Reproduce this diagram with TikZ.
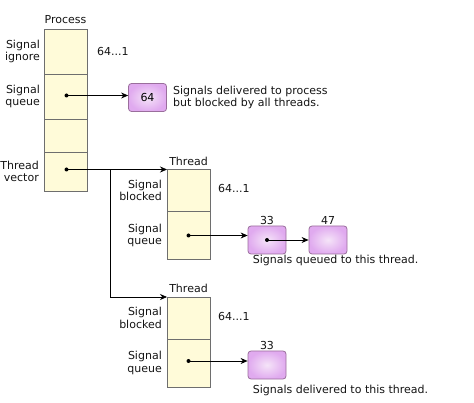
\documentclass[tikz,border=0pt]{standalone}
\usepackage{fontspec}
\setmainfont{DejaVu Sans}
\usetikzlibrary{arrows.meta,positioning,calc}
\definecolor{cellfill}{HTML}{FFFBD9}
\definecolor{cellline}{HTML}{6E6E6E}
\definecolor{pinkline}{HTML}{9A6E9C}
\definecolor{pinkout}{HTML}{E0AAEF}
\definecolor{pinkin}{HTML}{F5E4F8}
\definecolor{txtcol}{HTML}{141414}
\tikzset{
  cell/.style={draw=cellline, line width=0.8pt, fill=cellfill, minimum width=43pt, inner sep=0pt, outer sep=0pt, anchor=north west},
  sig/.style={draw=pinkline, line width=0.8pt, rounded corners=3pt, inner color=pinkin, outer color=pinkout, minimum width=38pt, minimum height=28pt, inner sep=0pt},
  dotn/.style={circle, fill=black, inner sep=0pt, minimum size=4pt},
  arr/.style={-{Stealth[length=7pt,width=6pt]}, line width=0.7pt, black},
  lab/.style={align=right, anchor=east, inner sep=0pt, text=txtcol},
  txt/.style={align=left, anchor=west, inner sep=0pt, text=txtcol},
  ttl/.style={anchor=south, inner sep=0pt, text=txtcol},
  every node/.append style={font=\fontsize{11pt}{12.8pt}\selectfont}
}
\begin{document}
\begin{tikzpicture}[x=1pt,y=-1pt]
\useasboundingbox (0,0) rectangle (474,403);
\coordinate (tx) at (167,0);
\coordinate (bx) at (110,0);
% Process
\node[cell, minimum height=45pt] (p1) at (44,29) {};
\node[cell, minimum height=45pt] (p2) at (p1.south west) {};
\node[cell, minimum height=33pt] (p3) at (p2.south west) {};
\node[cell, minimum height=39pt] (p4) at (p3.south west) {};
\node[ttl] (ptitle) at ([yshift=5pt]p1.north) {Process};
\node[lab] (pl1) at ([xshift=-4pt]p1.west) {Signal\\ignore};
\node[lab] (pl2) at ([xshift=-4pt]p2.west) {Signal\\queue};
\node[lab] (pl4) at ([xshift=-5pt]p4.west) {Thread\\vector};
\node[txt] (pr1) at ([xshift=10pt]p1.east) {64...1};
\node[dotn] (d1) at ([xshift=1pt,yshift=1pt]p2.center) {};
\node[dotn] (d4) at ([xshift=1pt,yshift=2pt]p4.center) {};
\node[sig] (b64) at (147.5,97.5) {64};
\node[txt] (t64) at ([xshift=6pt]b64.east) {Signals delivered to process\\but blocked by all threads.};
\draw[arr] (d1.center) -- (d1.center -| b64.west);
% Thread 1
\node[cell, minimum height=42pt] (ta1) at (d4.center -| tx) {};
\node[cell, minimum height=48pt] (ta2) at (ta1.south west) {};
\node[ttl] (tat) at ([yshift=4pt]ta1.north) {Thread};
\node[lab] (tal1) at ([xshift=-5pt]ta1.west) {Signal\\blocked};
\node[lab] (tal2) at ([xshift=-5pt]ta2.west) {Signal\\queue};
\node[txt] (tar1) at ([xshift=8pt,yshift=2pt]ta1.east) {64...1};
\node[dotn] (da) at (ta2.center) {};
\node[sig] (a33) at (267,240) {};
\node[sig] (a47) at (328,240) {};
\node[ttl] (a33l) at ([yshift=1pt]a33.north) {33};
\node[ttl] (a47l) at ([yshift=1pt]a47.north) {47};
\node[dotn] (da33) at (a33.center) {};
\node[txt, anchor=north west] (atx) at ([xshift=5pt,yshift=-1pt]a33.south west) {Signals queued to this thread.};
\draw[arr] (da.center) -- (da.center -| a33.west);
\draw[arr] (da33.center) -- (da33.center -| a47.west);
% Thread 2
\node[cell, minimum height=42pt] (tb1) at (167,297) {};
\node[cell, minimum height=48pt] (tb2) at (tb1.south west) {};
\node[ttl] (tbt) at ([yshift=4pt]tb1.north) {Thread};
\node[lab] (tbl1) at ([xshift=-5pt]tb1.west) {Signal\\blocked};
\node[lab] (tbl2) at ([xshift=-5pt]tb2.west) {Signal\\queue};
\node[txt] (tbr1) at ([xshift=8pt,yshift=2pt]tb1.east) {64...1};
\node[dotn] (db) at ([yshift=2pt]tb2.center) {};
\node[sig] (b33) at (267,365) {};
\node[ttl] (b33l) at ([yshift=1pt]b33.north) {33};
\node[txt, anchor=north west] (btx) at ([xshift=5pt,yshift=-6pt]b33.south west) {Signals delivered to this thread.};
\draw[arr] (db.center) -- (db.center -| b33.west);
% thread vector connectors
\coordinate (br) at (d4.center -| bx);
\draw[arr] (d4.center) -- (ta1.north west);
\draw[arr] (br) |- (tb1.north west);
\end{tikzpicture}
\end{document}
